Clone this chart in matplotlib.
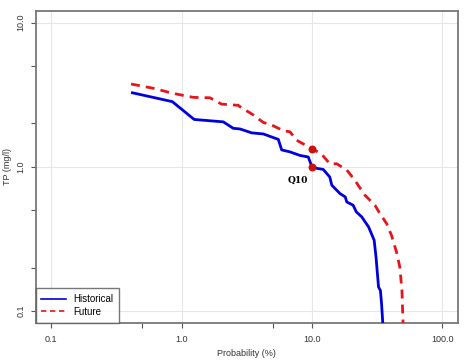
import numpy as np
import matplotlib
matplotlib.use("Agg")
import matplotlib.pyplot as plt
import matplotlib.ticker as mticker

plt.rcParams["font.family"] = ["Liberation Sans", "DejaVu Sans"]

# exceedance probability (%) and TP (mg/l)
hist_prob = [0.42, 0.85, 1.25, 2.09, 2.49, 2.81, 3.45, 4.24, 5.52, 5.86, 6.78, 8.09,
             9.37, 10.0, 11.0, 12.2, 13.7, 14.2, 16.4, 18.0, 18.5, 20.7, 21.9, 24.1,
             27.2, 30.0, 31.0, 32.4, 33.5, 34.2, 35.0]
hist_tp = [3.26, 2.83, 2.13, 2.05, 1.85, 1.83, 1.72, 1.69, 1.55, 1.31, 1.27, 1.20,
           1.17, 1.0, 0.975, 0.96, 0.85, 0.746, 0.653, 0.619, 0.571, 0.542, 0.487, 0.45,
           0.383, 0.31, 0.237, 0.147, 0.139, 0.112, 0.08]

fut_prob = [0.41, 0.61, 0.86, 1.23, 1.65, 2.03, 2.72, 2.81, 3.55, 4.24, 4.91, 6.03,
            6.78, 7.63, 9.1, 10.0, 11.9, 13.7, 15.5, 18.5, 21.3, 22.6, 25.5, 30.4,
            33.2, 37.4, 40.7, 44.5, 47.2, 49.0, 50.0]
fut_tp = [3.75, 3.50, 3.23, 3.03, 3.01, 2.72, 2.67, 2.61, 2.29, 2.03, 1.95, 1.78,
          1.75, 1.53, 1.40, 1.34, 1.22, 1.05, 1.05, 0.95, 0.81, 0.746, 0.636, 0.542,
          0.475, 0.404, 0.336, 0.257, 0.202, 0.139, 0.08]

q10_prob = [10.0, 10.0]
q10_tp = [1.0, 1.34]

major = [0.1, 1.0, 10.0, 100.0]
major_labels = ["0.1", "1.0", "10.0", "100.0"]
xminor = [0.5, 5.0]
yminor = [0.2, 0.5, 2.0, 5.0]

fig = plt.figure(figsize=(4.74, 3.62), dpi=100)
ax = fig.add_axes([35.5 / 474, 1 - 322.7 / 362, (458 - 35.5) / 474, (322.7 - 11) / 362])
ax.set_xscale("log")
ax.set_yscale("log")

# R style 4% padding around the data range
pad = 0.04
ax.set_xlim(10 ** (-1 - 3 * pad), 10 ** (2 + 3 * pad))
ax.set_ylim(10 ** (-1 - 2 * pad), 10 ** (1 + 2 * pad))

for v in major:
    ax.axvline(v, color="#e6e6e6", lw=0.8, zorder=0)
    ax.axhline(v, color="#e6e6e6", lw=0.8, zorder=0)

ax.plot(hist_prob, hist_tp, color="#0000dd", lw=2.0, label="Historical", zorder=3)
ax.plot(fut_prob, fut_tp, color="#e8141c", lw=2.0, ls=(0, (3.2, 2.2)), label="Future", zorder=3)
ax.scatter(q10_prob, q10_tp, s=22, color="#cc1111", zorder=4)
ax.text(9.3, 0.8, "Q10", family="DejaVu Serif", fontweight="bold", fontsize=6.5,
        ha="right", va="center")

ax.xaxis.set_major_locator(mticker.FixedLocator(major))
ax.xaxis.set_minor_locator(mticker.FixedLocator(xminor))
ax.yaxis.set_major_locator(mticker.FixedLocator(major))
ax.yaxis.set_minor_locator(mticker.FixedLocator(yminor))
ax.xaxis.set_major_formatter(mticker.FixedFormatter(major_labels))
ax.yaxis.set_major_formatter(mticker.FixedFormatter(major_labels))
ax.xaxis.set_minor_formatter(mticker.NullFormatter())
ax.yaxis.set_minor_formatter(mticker.NullFormatter())
ax.tick_params(which="both", length=3.5, width=0.8, color="#555555", labelsize=6.5,
               labelcolor="#333333")
ax.tick_params(axis="x", pad=5)
ax.tick_params(axis="y", pad=3.5)
for lab in ax.get_yticklabels():
    lab.set_rotation(90)
    lab.set_va("center")

for s in ax.spines.values():
    s.set_color("#777777")
    s.set_linewidth(1.3)

ax.set_xlabel("Probability (%)", fontsize=6.5, color="#333333", labelpad=4)
ax.set_ylabel("TP (mg/l)", fontsize=6.5, color="#333333")
ax.yaxis.set_label_coords(-0.055, 0.5)

leg = ax.legend(loc="lower left", fontsize=7, frameon=True, fancybox=False,
                borderaxespad=0, handlelength=2.5, borderpad=0.6, labelspacing=0.3)
leg.get_frame().set_edgecolor("#555555")
leg.get_frame().set_linewidth(1.0)
for h in leg.get_lines():
    h.set_linewidth(1.2)

fig.savefig("out.png", dpi=100)
